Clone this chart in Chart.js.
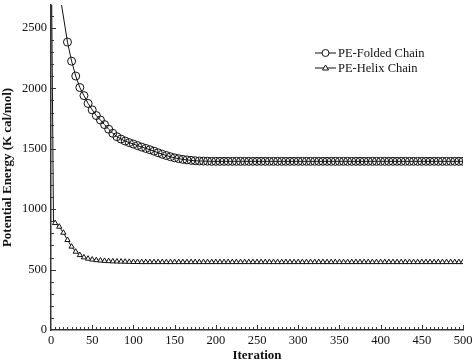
<!DOCTYPE html>
<html>
<head>
<meta charset="utf-8">
<script src="https://cdn.jsdelivr.net/npm/chart.js@4.4.0/dist/chart.umd.min.js"></script>
<style>
  html, body { margin: 0; padding: 0; background: #fff; }
  #wrap { width: 474px; height: 363px; }
</style>
</head>
<body>
<div id="wrap"><canvas id="myChart" width="474" height="363"></canvas></div>
<script>
// iterations / energies
var foldedIter = [10, 20, 25, 30, 35, 40, 45, 50, 55, 60, 65, 70, 75, 80, 85, 90, 95,
  100, 105, 110, 115, 120, 125, 130, 135, 140, 145, 150, 155, 160, 165, 170, 175, 180, 185, 190, 195,
  200, 205, 210, 215, 220, 225, 230, 235, 240, 245, 250, 255, 260, 265, 270, 275, 280, 285, 290, 295,
  300, 305, 310, 315, 320, 325, 330, 335, 340, 345, 350, 355, 360, 365, 370, 375, 380, 385, 390, 395,
  400, 405, 410, 415, 420, 425, 430, 435, 440, 445, 450, 455, 460, 465, 470, 475, 480, 485, 490, 495, 500];
var foldedEnergy = [2810, 2383, 2225, 2102, 2007, 1940, 1875, 1822, 1775, 1738, 1700, 1662, 1628, 1600, 1580, 1564, 1551,
  1539, 1526, 1514, 1503, 1492, 1480, 1467, 1455, 1444, 1434, 1425, 1418, 1412, 1408, 1404, 1401, 1399, 1398, 1397, 1396,
  1396, 1396, 1396, 1396, 1396, 1396, 1396, 1396, 1396, 1396, 1396, 1396, 1396, 1396, 1396, 1396, 1396, 1396, 1396, 1396,
  1396, 1396, 1396, 1396, 1396, 1396, 1396, 1396, 1396, 1396, 1396, 1396, 1396, 1396, 1396, 1396, 1396, 1396, 1396, 1396,
  1396, 1396, 1396, 1396, 1396, 1396, 1396, 1396, 1396, 1396, 1396, 1396, 1396, 1396, 1396, 1396, 1396, 1396, 1396, 1396, 1396];

var helixIter = [0, 3, 5, 10, 15, 20, 25, 30, 35, 40, 45, 50, 55, 60, 65, 70, 75, 80, 85, 90, 95,
  100, 105, 110, 115, 120, 125, 130, 135, 140, 145, 150, 155, 160, 165, 170, 175, 180, 185, 190, 195,
  200, 205, 210, 215, 220, 225, 230, 235, 240, 245, 250, 255, 260, 265, 270, 275, 280, 285, 290, 295,
  300, 305, 310, 315, 320, 325, 330, 335, 340, 345, 350, 355, 360, 365, 370, 375, 380, 385, 390, 395,
  400, 405, 410, 415, 420, 425, 430, 435, 440, 445, 450, 455, 460, 465, 470, 475, 480, 485, 490, 495, 500];
var helixEnergy = [3400, 900, 885, 855, 805, 745, 690, 648, 620, 601, 590, 583, 578, 575, 572, 570, 568, 567, 566, 565, 564,
  563, 563, 562, 562, 562, 562, 562, 562, 562, 562, 562, 562, 562, 562, 562, 562, 562, 562, 562, 562,
  562, 562, 562, 562, 562, 562, 562, 562, 562, 562, 562, 562, 562, 562, 562, 562, 562, 562, 562, 562,
  562, 562, 562, 562, 562, 562, 562, 562, 562, 562, 562, 562, 562, 562, 562, 562, 562, 562, 562, 562,
  562, 562, 562, 562, 562, 562, 562, 562, 562, 562, 562, 562, 562, 562, 562, 562, 562, 562, 562, 562, 562];

var seriesNames = ["PE-Folded Chain", "PE-Helix Chain"];
var yLabels = [0, 500, 1000, 1500, 2000, 2500];
var xLabels = [0, 50, 100, 150, 200, 250, 300, 350, 400, 450, 500];

function toPoints(xs, ys) {
  return xs.map(function (x, i) { return { x: x, y: ys[i] }; });
}
// markers only where the figure shows them (not on the off-scale start points)
function radii(xs, first, r) {
  return xs.map(function (x) { return x < first ? 0 : r; });
}

var serif = "'Liberation Serif', 'DejaVu Serif', serif";

// inward tick marks along both axes
var innerTicks = {
  id: "innerTicks",
  afterDraw: function (chart) {
    var ctx = chart.ctx, xs = chart.scales.x, ys = chart.scales.y, a = chart.chartArea;
    ctx.save();
    ctx.strokeStyle = "#333";
    ctx.lineWidth = 1;
    ctx.beginPath();
    for (var v = 5; v <= 500; v += 5) {
      var px = Math.round(xs.getPixelForValue(v)) + 0.5;
      var len = v % 50 === 0 ? 5 : 3;
      ctx.moveTo(px, a.bottom);
      ctx.lineTo(px, a.bottom - len);
    }
    for (var w = 100; w <= 2600; w += 100) {
      var py = Math.round(ys.getPixelForValue(w)) + 0.5;
      var l2 = w % 500 === 0 ? 5 : 3;
      ctx.moveTo(a.left, py);
      ctx.lineTo(a.left + l2, py);
    }
    ctx.stroke();
    ctx.restore();
  }
};

// legend drawn as line + marker, inside the plot like the original
var lineLegend = {
  id: "lineLegend",
  afterDraw: function (chart) {
    var ctx = chart.ctx;
    ctx.save();
    ctx.font = "12.5px " + serif;
    ctx.textBaseline = "middle";
    chart.data.datasets.forEach(function (ds, i) {
      var y = 53 + i * 15;
      ctx.strokeStyle = "#111";
      ctx.lineWidth = 1;
      ctx.beginPath();
      ctx.moveTo(315, y);
      ctx.lineTo(336, y);
      ctx.stroke();
      ctx.beginPath();
      if (ds.pointStyle === "circle") {
        ctx.arc(325.5, y, 3.5, 0, Math.PI * 2);
      } else {
        ctx.moveTo(325.5, y - 3);
        ctx.lineTo(328.5, y + 2);
        ctx.lineTo(322.5, y + 2);
        ctx.closePath();
      }
      ctx.fillStyle = "#fff";
      ctx.fill();
      ctx.stroke();
      ctx.fillStyle = "#111";
      ctx.fillText(ds.label, 338, y + 0.5);
    });
    ctx.restore();
  }
};

function plain(v) { return String(v); }

var ctx = document.getElementById("myChart").getContext("2d");
var myChart = new Chart(ctx, {
  type: "line",
  data: {
    datasets: [
      {
        label: seriesNames[0],
        data: toPoints(foldedIter, foldedEnergy),
        borderColor: "#111",
        borderWidth: 1,
        pointStyle: "circle",
        pointRadius: radii(foldedIter, 20, 4),
        pointBorderColor: "#111",
        pointBackgroundColor: "rgba(255,255,255,0)",
        pointBorderWidth: 1,
        tension: 0,
        fill: false,
      },
      {
        label: seriesNames[1],
        data: toPoints(helixIter, helixEnergy),
        borderColor: "#111",
        borderWidth: 1,
        pointStyle: "triangle",
        pointRadius: radii(helixIter, 5, 3),
        pointBorderColor: "#111",
        pointBackgroundColor: "#fff",
        pointBorderWidth: 1,
        tension: 0,
        fill: false,
      },
    ],
  },
  options: {
    responsive: false,
    animation: false,
    layout: { padding: { top: -3, right: 11, left: 0, bottom: 0 } },
    plugins: {
      legend: { display: false },
      tooltip: { enabled: false },
    },
    scales: {
      x: {
        type: "linear",
        min: 0,
        max: 500,
        afterBuildTicks: function (scale) {
          scale.ticks = xLabels.map(function (v) { return { value: v }; });
        },
        afterFit: function (scale) {
          scale.height = 33;
          scale.paddingLeft = 0;
          scale.paddingRight = 0;
        },
        grid: { display: false, drawTicks: false },
        border: { display: true, color: "#333", width: 1.5 },
        ticks: {
          padding: 3,
          color: "#111",
          maxRotation: 0,
          autoSkip: false,
          callback: plain,
          font: { family: serif, size: 12.5 },
        },
        title: {
          display: true,
          text: "Iteration",
          color: "#111",
          padding: { top: 0, bottom: 0 },
          font: { family: serif, size: 13, weight: "bold" },
        },
      },
      y: {
        type: "linear",
        min: 0,
        max: 2690,
        afterBuildTicks: function (scale) {
          scale.ticks = yLabels.map(function (v) { return { value: v }; });
        },
        afterFit: function (scale) {
          scale.width = 51;
          scale.paddingTop = 0;
          scale.paddingBottom = 0;
        },
        grid: { display: false, drawTicks: false },
        border: { display: true, color: "#333", width: 1.5 },
        ticks: {
          padding: 4,
          color: "#111",
          autoSkip: false,
          callback: plain,
          font: { family: serif, size: 12.5 },
        },
        title: {
          display: true,
          text: "Potential Energy (K cal/mol)",
          color: "#111",
          padding: { top: 0, bottom: 0 },
          font: { family: serif, size: 13, weight: "bold" },
        },
      },
    },
  },
  plugins: [innerTicks, lineLegend],
});
</script>
</body>
</html>
